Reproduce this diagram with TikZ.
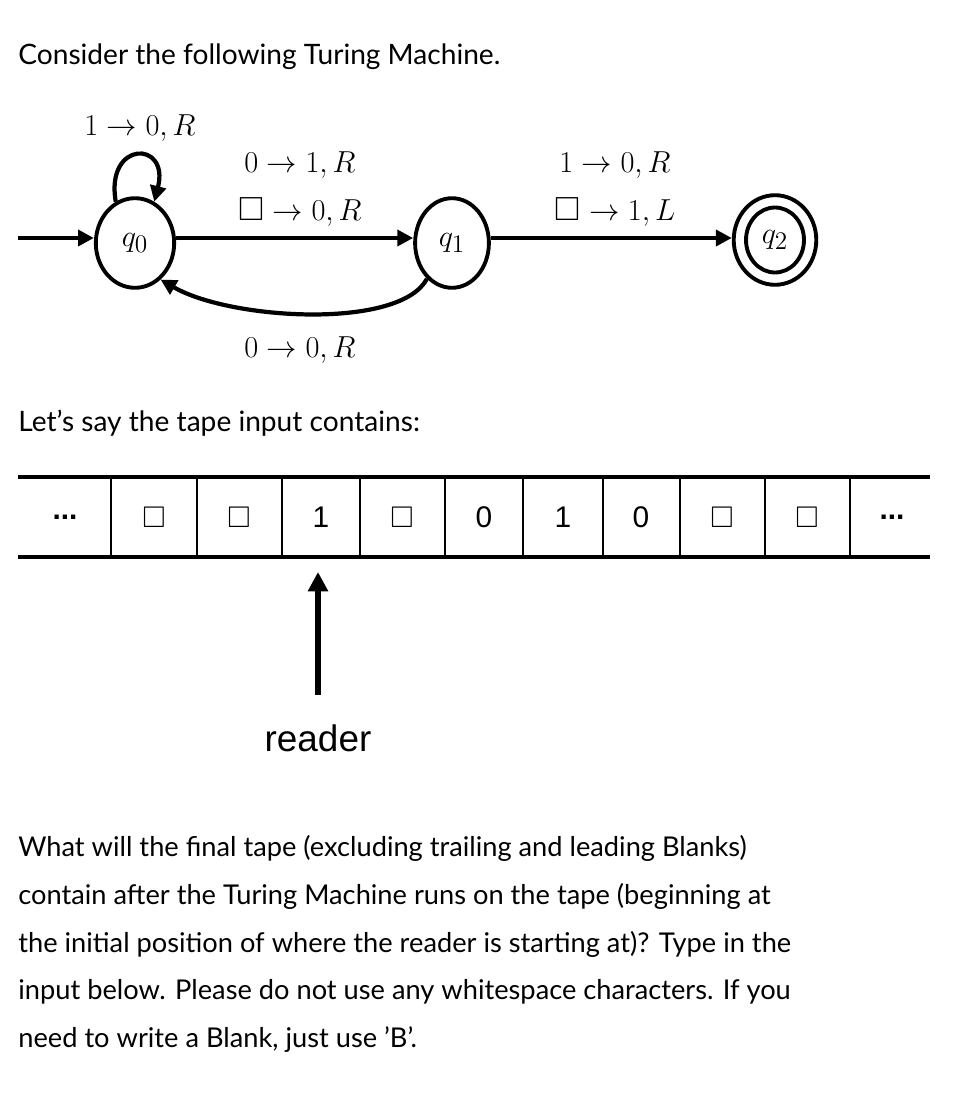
\documentclass[tikz,border=0pt]{standalone}
\usepackage{amssymb}
\usepackage{fontspec}
\setmainfont{Lato}
\newfontfamily\arial{Liberation Sans}
\usetikzlibrary{arrows.meta,shapes.geometric}
\begin{document}
\begin{tikzpicture}[x=0.02cm,y=-0.02cm,
  st/.style={draw,line width=2.2pt,ellipse,inner sep=0pt,minimum height=51pt},
  edge/.style={line width=2.4pt,-{Triangle[length=9pt,width=9pt]}},
  lab/.style={font=\fontsize{19}{22}\selectfont},
  txt/.style={anchor=west,inner sep=0pt,font=\fontsize{16}{19}\selectfont},
  par/.style={anchor=west,inner sep=0pt,font=\fontsize{15.5}{19}\selectfont},
  cell/.style={font=\arial\fontsize{17}{20}\selectfont}]
\useasboundingbox (0,0) rectangle (955,1112);
\node[txt] (t1) at (18,57) {Consider the following Turing Machine.};
\node[st,minimum width=44.6pt] (q0) at (135,243) {};
\node[lab] at (q0) {$q_0$};
\node[st,minimum width=42pt] (q1) at (452,243) {};
\node[lab] at (q1) {$q_1$};
\node[st,minimum width=47pt] (q2) at (775,240) {};
\node[st,minimum width=33pt,minimum height=37pt] (q2i) at (775,240) {};
\node[lab] at (q2) {$q_2$};
\coordinate (s) at (18,238);
\draw[edge] (s) -- (q0.west |- s);
\draw[edge] (q0.east |- s) -- (q1.west |- s);
\draw[edge] (q1.east |- s) -- (q2.west |- s);
\draw[edge] (q0.115) .. controls (105,140) and (170,140) .. (q0.65);
\draw[edge] (q1.235) .. controls (400,330) and (230,320) .. (q0.305);
\node[lab] (l1) at (140,128) {$1\rightarrow 0,R$};
\node[lab] (l2) at (300,165) {$0\rightarrow 1,R$};
\node[lab] (l3) at (300,212) {$\square\rightarrow 0,R$};
\node[lab] (l4) at (615,165) {$1\rightarrow 0,R$};
\node[lab] (l5) at (615,212) {$\square\rightarrow 1,L$};
\node[lab] (l6) at (300,350) {$0\rightarrow 0,R$};
\node[txt] (t2) at (18,423) {Let's say the tape input contains:};
\draw[line width=1.8pt] (18,477) -- (930,477) (18,557) -- (930,557);
\foreach \x in {111,197,282,360,445,523,603,680,765,850}
  \draw[line width=1.1pt] (\x,477) -- (\x,557);
\node[cell] at (65,517) {\textbf{...}};
\node[cell] at (892,517) {\textbf{...}};
\foreach \x/\s in {154/$\square$,239/$\square$,321/1,402/$\square$,484/0,563/1,641/0,722/$\square$,807/$\square$}
  \node[cell] at (\x,517) {\s};
\coordinate (ra) at (318,695);
\node[cell,font=\arial\fontsize{21}{24}\selectfont] (rd) at (318,738) {reader};
\draw[line width=3pt,-{Triangle[length=11pt,width=11pt]}] (ra) -- (318,572);
\node[par] at (18,848) {What will the final tape (excluding trailing and leading Blanks)};
\node[par] at (18,896) {contain after the Turing Machine runs on the tape (beginning at};
\node[par] at (18,944) {the initial position of where the reader is starting at)? Type in the};
\node[par] at (18,992) {input below. Please do not use any whitespace characters. If you};
\node[par] at (18,1040) {need to write a Blank, just use 'B'.};
\end{tikzpicture}
\end{document}
